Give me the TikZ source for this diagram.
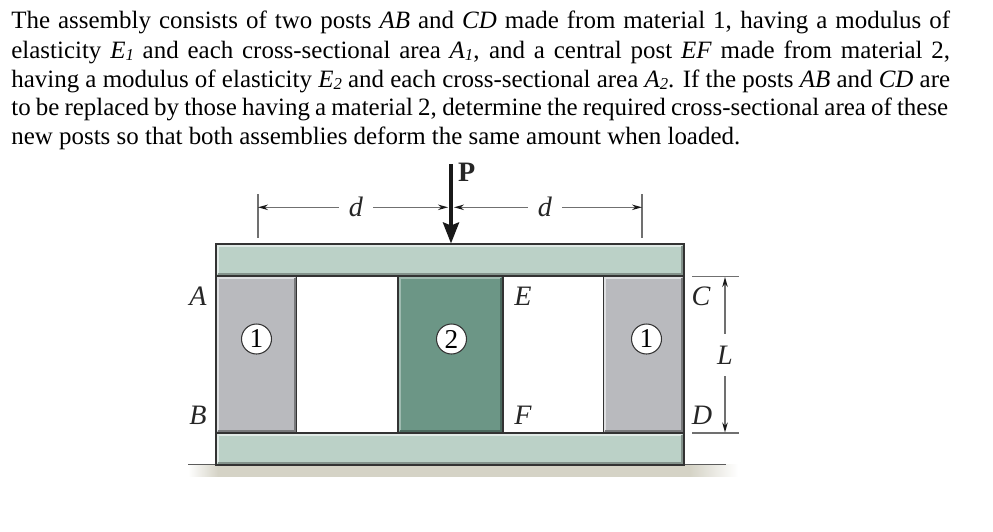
\documentclass[tikz,border=0pt]{standalone}
\usepackage{fontspec}
\setmainfont{Liberation Serif}
\usetikzlibrary{arrows.meta,positioning}
\definecolor{plategreen}{HTML}{BBD1C7}
\definecolor{postgray}{HTML}{B9BABE}
\definecolor{postgreen}{HTML}{6C9686}
\definecolor{groundtan}{HTML}{D5D3C6}
\definecolor{edgedark}{HTML}{333333}
\definecolor{dimgray}{HTML}{707070}
\newcommand{\subnum}[1]{\raisebox{-0.25ex}{\fontsize{9.5}{10}\selectfont\textit{#1}}}
\newcommand{\fullline}[1]{\hbox to 18.78cm{#1}}
% inner light and dark edges of a member
\newcommand{\bevel}[3]{%
  \draw[#2,line width=1.1pt] ([shift={(2.7,-2.7)}]#1.south west) -- ([shift={(2.7,2.7)}]#1.north west) -- ([shift={(-2.7,2.7)}]#1.north east);
  \draw[#3,line width=1.1pt] ([shift={(2.7,-2.7)}]#1.south west) -- ([shift={(-2.7,-2.7)}]#1.south east) -- ([shift={(-2.7,2.7)}]#1.north east);}
\tikzset{
  textline/.style={anchor=base west,inner sep=0pt,font=\fontsize{14.2}{16}\selectfont},
  member/.style={draw=edgedark,line width=1pt,inner sep=0pt,minimum height=#1},
  plate/.style={member=0.64cm,minimum width=9.37cm,fill=plategreen},
  post/.style={member=3.13cm,minimum width=1.61cm,fill=postgray},
  midpost/.style={member=3.13cm,minimum width=2.10cm,fill=postgreen},
  tag/.style={circle,draw=edgedark,line width=0.6pt,fill=white,minimum size=0.6cm,inner sep=0pt,font=\fontsize{15.5}{16}\selectfont},
  letter/.style={inner sep=0pt,font=\fontsize{16}{18}\selectfont\itshape,text=black!85},
  dimlabel/.style={letter,inner xsep=0.2cm},
  dimline/.style={draw=dimgray,line width=0.7pt},
  dimarrow/.style={dimline,-{Stealth[length=2mm,width=1.1mm,color=black!90]}}
}
\begin{document}
\begin{tikzpicture}[x=0.02cm,y=-0.02cm]
\useasboundingbox (0,0) rectangle (993,531);
% problem statement
\node[textline] (lineA) at (11,28.5) {\fullline{The assembly consists of two posts \textit{AB} and \textit{CD} made from material 1, having a modulus of}};
\node[textline] (lineB) at (11,58) {\fullline{elasticity \textit{E}\subnum{1} and each cross-sectional area \textit{A}\subnum{1}, and a central post \textit{EF} made from material 2,}};
\node[textline] (lineC) at (11,87) {\fullline{having a modulus of elasticity \textit{E}\subnum{2} and each cross-sectional area \textit{A}\subnum{2}. If the posts \textit{AB} and \textit{CD} are}};
\node[textline] (lineD) at (11,115.5) {\hbox to 18.74cm{to be replaced by those having a material 2, determine the required cross-sectional area of these}};
\node[textline] (lineE) at (11,144) {new posts so that both assemblies deform the same amount when loaded.};
% ground
\fill[left color=white,right color=groundtan] (188,464.5) rectangle (218,476.7);
\fill[groundtan] (218,464.5) rectangle (690,476.7);
\fill[left color=groundtan,right color=white] (690,464.5) rectangle (738,476.7);
\coordinate (groundL) at (188,464.5);
\coordinate (groundR) at (726,464.5);
\draw[edgedark!80,line width=0.85pt] (groundL) -- (groundR);
% members
\node[plate] (plateTop) at (450,260.2) {};
\node[plate] (plateBot) at (450,448.8) {};
\node[post] (postAB) at (256.2,354.7) {};
\node[midpost] (postEF) at (450.2,354.7) {};
\node[post] (postCD) at (643.8,354.7) {};
\bevel{plateTop}{plategreen!45!white}{plategreen!70!black}
\bevel{plateBot}{plategreen!45!white}{plategreen!70!black}
\bevel{postAB}{postgray!45!white}{postgray!65!black}
\bevel{postEF}{postgreen!65!white}{postgreen!70!black}
\bevel{postCD}{postgray!45!white}{postgray!65!black}
\node[tag] (tagAB) at (256.5,339) {1};
\node[tag] (tagEF) at (451.5,339) {2};
\node[tag] (tagCD) at (646.5,339) {1};
% point labels
\node[letter] (ptA) at (198,296) {A};
\node[letter] (ptB) at (198,415) {B};
\node[letter] (ptE) at (523,296) {E};
\node[letter] (ptF) at (523,415) {F};
\node[letter] (ptC) at (701,296) {C};
\node[letter] (ptD) at (702,415) {D};
% load
\coordinate (loadTop) at (451,164);
\coordinate (loadTip) at (451,243.5);
\draw[black!90,line width=2.2pt,-{Stealth[length=4.2mm,width=3.2mm,inset=0.6mm]}] (loadTop) -- (loadTip);
\node[inner sep=0pt,font=\fontsize{16}{18}\selectfont\bfseries,text=black!85] (loadP) at (466.7,172) {P};
% span dimensions
\coordinate (tickLa) at (258,194);
\coordinate (tickLb) at (258,238);
\coordinate (tickRa) at (642,194);
\coordinate (tickRb) at (642,238);
\coordinate (loadL) at (448,207.3);
\coordinate (loadR) at (454,207.3);
\coordinate (tickLm) at (258,207.3);
\coordinate (tickRm) at (642,207.3);
\draw[dimline] (tickLa) -- (tickLb);
\draw[dimline] (tickRa) -- (tickRb);
\node[dimlabel] (spanL) at (356,207.3) {d};
\node[dimlabel] (spanR) at (545,207.3) {d};
\draw[dimarrow] (spanL) -- (tickLm);
\draw[dimarrow] (spanL) -- (loadL);
\draw[dimarrow] (spanR) -- (loadR);
\draw[dimarrow] (spanR) -- (tickRm);
% height dimension
\coordinate (extTa) at (692,276.5);
\coordinate (extTb) at (739,276.5);
\coordinate (extBa) at (692,433);
\coordinate (extBb) at (739,433);
\coordinate (heightT) at (725,277);
\coordinate (heightB) at (725,432.5);
\draw[dimline] (extTa) -- (extTb);
\draw[dimline] (extBa) -- (extBb);
\node[letter,inner ysep=0.23cm] (height) at (725,355) {L};
\draw[dimarrow] (height) -- (heightT);
\draw[dimarrow] (height) -- (heightB);
\end{tikzpicture}
\end{document}
